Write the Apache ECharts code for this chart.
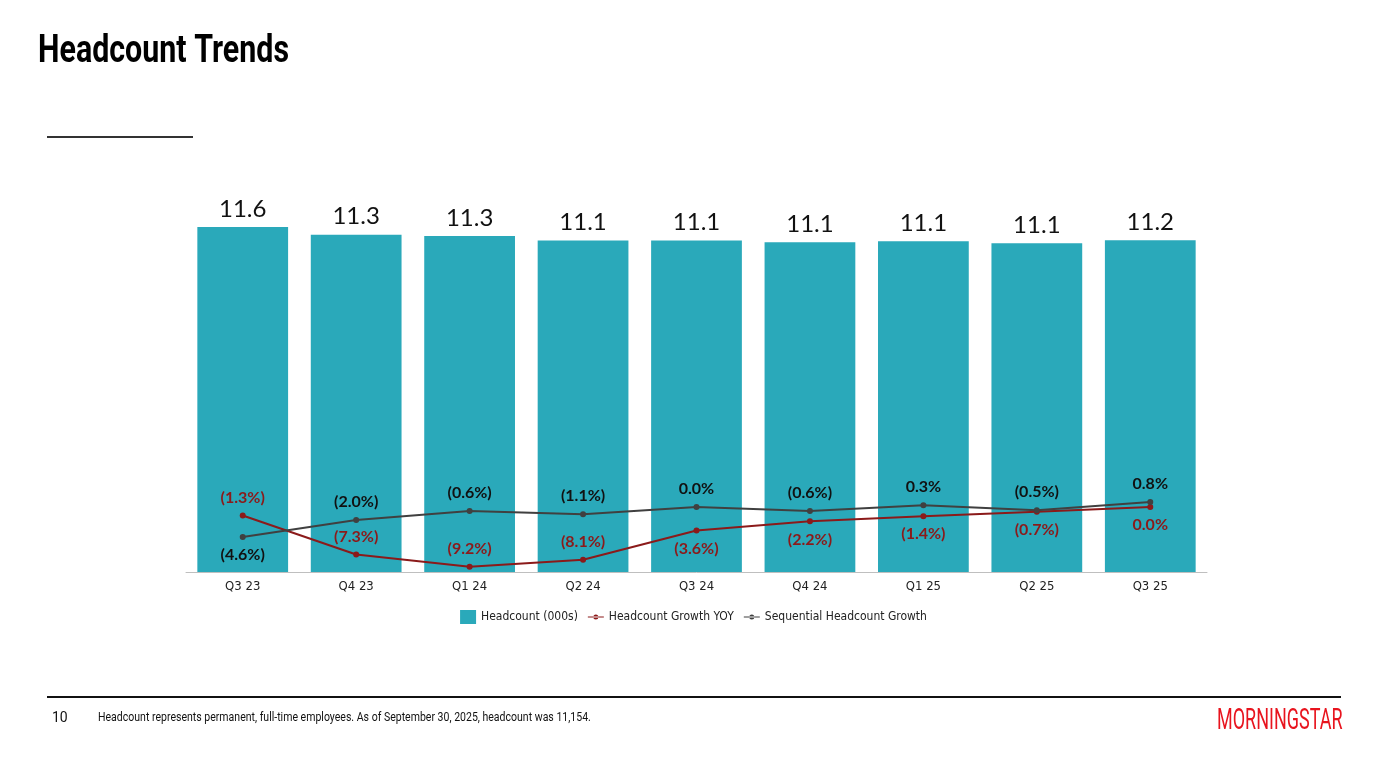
<!DOCTYPE html>
<html>
<head>
<meta charset="UTF-8">
<title>Headcount Trends</title>
<script src="https://cdn.jsdelivr.net/npm/echarts@6/dist/echarts.min.js"></script>
<style>
  * { margin: 0; padding: 0; }
  html, body { width: 1387px; height: 777px; background: #fff; overflow: hidden; }
  #main { width: 1387px; height: 777px; }
</style>
</head>
<body>
<div id="main"></div>
<script>
// quarters and values
var quarters = ['Q3 23', 'Q4 23', 'Q1 24', 'Q2 24', 'Q3 24', 'Q4 24', 'Q1 25', 'Q2 25', 'Q3 25'];
var headcount = [11.60, 11.34, 11.29, 11.14, 11.14, 11.08, 11.12, 11.05, 11.154];
var yoyGrowth = [-1.3, -7.3, -9.2, -8.1, -3.6, -2.2, -1.4, -0.7, 0.0];
var seqGrowth = [-4.6, -2.0, -0.6, -1.1, 0.0, -0.6, 0.3, -0.5, 0.8];
var yoyLabelPos = ['top', 'top', 'top', 'top', 'bottom', 'bottom', 'bottom', 'bottom', 'bottom'];
var seqLabelPos = ['bottom', 'top', 'top', 'top', 'top', 'top', 'top', 'top', 'top'];

var teal = '#2aa9ba';
var red = '#8b1a1a';
var gray = '#404040';
var narrow = '"DejaVu Sans Condensed", Roboto, sans-serif';
var labelFont = 'Lato, "Open Sans", sans-serif';
// thin line with a small dot, for the line series in the legend
var lineIcon = 'path://M0,6.4L16,6.4L16,7.6L0,7.6Z M5.5,7A2.5,2.5 0 1,0 10.5,7A2.5,2.5 0 1,0 5.5,7Z';

function pct(v) {
  var s = Math.abs(v).toFixed(1) + '%';
  return v < 0 ? '(' + s + ')' : s;
}

function lineData(vals, pos) {
  return vals.map(function (v, i) {
    return { value: v, label: { position: pos[i] } };
  });
}

var chart = echarts.init(document.getElementById('main'));

chart.setOption({
  animation: false,
  graphic: [
    // squeezed text stands in for the condensed slide font
    { type: 'text', x: 38, y: 33, scaleX: 0.8, style: { text: 'Headcount Trends', font: 'bold 38px Roboto', fill: '#000' } },
    { type: 'line', shape: { x1: 47, y1: 137, x2: 193, y2: 137 }, style: { stroke: '#333', lineWidth: 2 } },
    { type: 'line', shape: { x1: 47, y1: 697, x2: 1341, y2: 697 }, style: { stroke: '#111', lineWidth: 2 } },
    { type: 'text', x: 52, y: 711, style: { text: '10', font: '14px Roboto', fill: '#111' } },
    { type: 'text', x: 98, y: 711, scaleX: 0.81, style: { text: 'Headcount represents permanent, full-time employees. As of September 30, 2025, headcount was 11,154.', font: '13px Roboto', fill: '#111' } },
    { type: 'text', x: 1217, y: 706, scaleX: 0.6, style: { text: 'MORNINGSTAR', font: '30px Roboto', fill: '#e8141e' } }
  ],
  legend: {
    top: 605,
    left: 'center',
    itemWidth: 16,
    itemHeight: 14,
    itemGap: 10,
    textStyle: { fontFamily: narrow, fontSize: 12, color: '#222' },
    data: [
      { name: 'Headcount (000s)', icon: 'rect' },
      { name: 'Headcount Growth YOY', icon: lineIcon },
      { name: 'Sequential Headcount Growth', icon: lineIcon }
    ]
  },
  grid: { left: 186, right: 180, top: 215, bottom: 205 },
  xAxis: {
    type: 'category',
    data: quarters,
    axisTick: { show: false },
    axisLine: { lineStyle: { color: '#bfbfbf' } },
    axisLabel: { color: '#222', fontFamily: narrow, fontSize: 13, margin: 8 }
  },
  yAxis: [
    { type: 'value', min: 0, max: 12, show: false, splitLine: { show: false } },
    { type: 'value', min: -10, max: 45, show: false, splitLine: { show: false } }
  ],
  series: [
    {
      name: 'Headcount (000s)',
      type: 'bar',
      data: headcount,
      barCategoryGap: '20%',
      itemStyle: { color: teal },
      label: {
        show: true,
        position: 'top',
        distance: 6,
        color: '#111',
        fontFamily: labelFont,
        fontSize: 24,
        formatter: function (p) { return p.value.toFixed(1); }
      }
    },
    {
      name: 'Headcount Growth YOY',
      type: 'line',
      yAxisIndex: 1,
      data: lineData(yoyGrowth, yoyLabelPos),
      symbol: 'circle',
      symbolSize: 6,
      lineStyle: { color: red, width: 2 },
      itemStyle: { color: red },
      label: {
        show: true,
        distance: 7,
        color: red,
        fontFamily: labelFont,
        fontWeight: 'bold',
        fontSize: 16,
        formatter: function (p) { return pct(p.value); }
      }
    },
    {
      name: 'Sequential Headcount Growth',
      type: 'line',
      yAxisIndex: 1,
      data: lineData(seqGrowth, seqLabelPos),
      symbol: 'circle',
      symbolSize: 6,
      lineStyle: { color: gray, width: 2 },
      itemStyle: { color: gray },
      label: {
        show: true,
        distance: 7,
        color: '#111',
        fontFamily: labelFont,
        fontWeight: 'bold',
        fontSize: 16,
        formatter: function (p) { return pct(p.value); }
      }
    }
  ]
});
</script>
</body>
</html>
